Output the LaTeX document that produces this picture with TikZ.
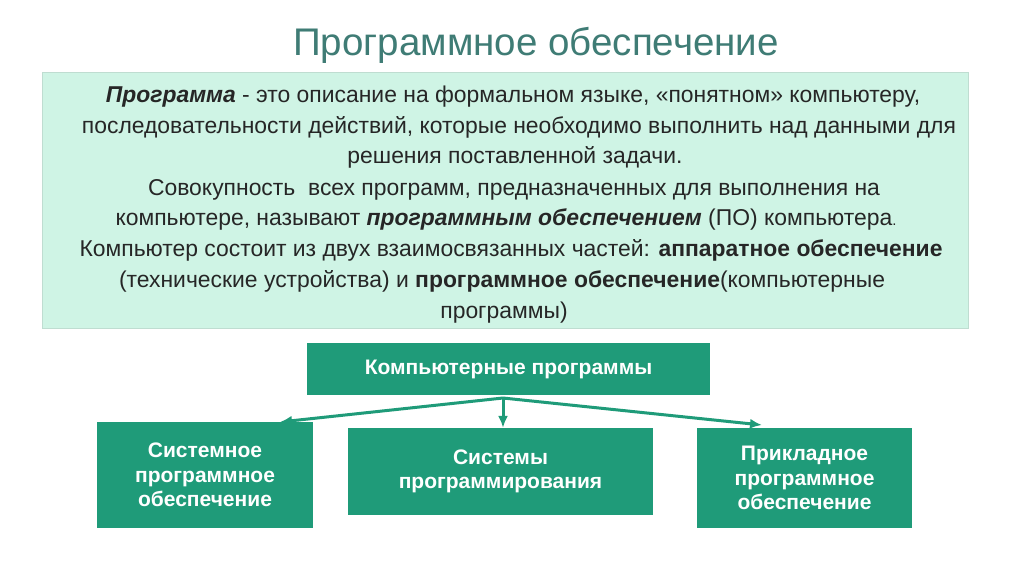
\documentclass[tikz,border=0pt]{standalone}
\usepackage{fontspec}
\setmainfont{Liberation Sans}
\begin{document}
\begin{tikzpicture}[x=1pt,y=-1pt,
  txt/.style={font=\fontsize{22.9}{26}\selectfont,text=black!85,anchor=base},
  gbox/.style={draw=none,fill=boxg,text=white,font=\bfseries\fontsize{21}{24.5}\selectfont,align=center},
  arr/.style={draw=boxg,line width=3pt,-{Latex[length=12pt,width=10pt]}}]
\usetikzlibrary{arrows.meta}
\definecolor{boxg}{HTML}{1F9B79}
\definecolor{panel}{HTML}{CFF4E5}
\definecolor{ttl}{HTML}{3F7C75}
\useasboundingbox (0,0) rectangle (1024,574);
\fill[white] (0,0) rectangle (1024,574);
\node[font=\fontsize{38.5}{44}\selectfont,text=ttl] (title) at (536,45) {Программное обеспечение};
\draw[fill=panel,draw=panel!80!gray] (42,72) rectangle (968,328);
\node[txt] (l1) at (513,102) {\textbf{\textit{Программа}} - это описание на формальном языке, «понятном» компьютеру,};
\node[txt] (l2) at (519,133) {последовательности действий, которые необходимо выполнить над данными для};
\node[txt] (l3) at (515,163) {решения поставленной задачи.};
\node[txt] (l4) at (514,195) {Совокупность\ \ всех программ, предназначенных для выполнения на};
\node[txt] (l5) at (506,225) {компьютере, называют \textbf{\textit{программным обеспечением}} (ПО) компьютера{\fontsize{15}{17}\selectfont.}};
\node[txt] (l6) at (511,256) {Компьютер состоит из двух взаимосвязанных частей: \textbf{аппаратное обеспечение}};
\node[txt] (l7) at (502,287) {(технические устройства) и \textbf{программное обеспечение}(компьютерные};
\node[txt] (l8) at (504,318) {программы)};
\node[gbox,minimum width=403,minimum height=52] (top) at (508.5,369) {Компьютерные программы};
\node[gbox,minimum width=216,minimum height=106] (sys) at (205,475) {Системное\\программное\\обеспечение};
\node[gbox,minimum width=305,minimum height=87] (prog) at (500.5,471.5) {Системы\\программирования};
\node[gbox,minimum width=215,minimum height=100] (app) at (804.5,478) {Прикладное\\программное\\обеспечение};
\coordinate (o) at (503,398);
\coordinate (lt) at (280,422);
\coordinate (rt) at (762,425);
\draw[arr] (o) -- (lt);
\draw[arr] (o) -- (prog.north -| o);
\draw[arr] (o) -- (rt);
\end{tikzpicture}
\end{document}
